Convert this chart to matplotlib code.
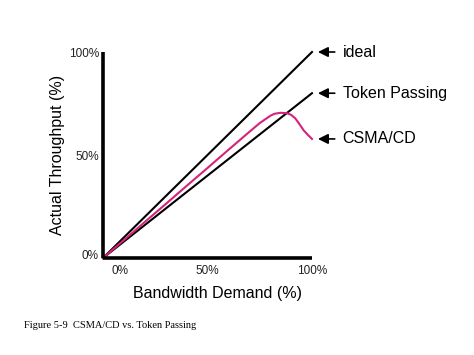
import matplotlib.pyplot as plt
import matplotlib.transforms as mtransforms

plt.rcParams['font.family'] = ['Liberation Sans', 'DejaVu Sans']

# bandwidth demand (%) and throughput (%)
demand_line = [0, 100]
ideal = [0, 100]
token_passing = [0, 80]

demand_csma = [0, 10, 20, 30, 40, 50, 60, 70, 75, 80, 82, 85, 88, 90, 92, 94, 96, 98, 100]
csma_cd = [0, 8.7, 17.5, 26.2, 35, 43.7, 52.5, 61.2, 65.5, 69.0, 70.0, 70.5, 70.3, 69.5, 67.8, 65.0, 62.0, 59.8, 57.8]

tick_vals = [0, 50, 100]
tick_labels = ['0%', '50%', '100%']

fig = plt.figure(figsize=(4.74, 3.55), dpi=100)
ax = fig.add_axes([0.2173, 0.2732, 0.4409, 0.5803])

ax.plot(demand_line, ideal, color='black', lw=1.5, clip_on=False)
ax.plot(demand_line, token_passing, color='black', lw=1.5, clip_on=False)
ax.plot(demand_csma, csma_cd, color='#d4237a', lw=1.5, clip_on=False)

ax.set_xlim(0, 100)
ax.set_ylim(0, 100)
for side in ['top', 'right']:
    ax.spines[side].set_visible(False)
for side in ['left', 'bottom']:
    ax.spines[side].set_linewidth(2.6)
    ax.spines[side].set_capstyle('butt')

ax.set_xticks(tick_vals)
ax.set_xticklabels(tick_labels)
ax.set_yticks(tick_vals)
ax.set_yticklabels(tick_labels)
ax.tick_params(length=0, labelsize=8.5, colors='#222222')
ax.tick_params(axis='x', pad=5)
ax.tick_params(axis='y', pad=3)

# first x label sits a bit to the right of the axis corner
lbl = ax.get_xticklabels()[0]
lbl.set_transform(lbl.get_transform() + mtransforms.ScaledTranslation(17 / 100, 0, fig.dpi_scale_trans))
lbl = ax.get_yticklabels()[0]
lbl.set_transform(lbl.get_transform() + mtransforms.ScaledTranslation(0, 4 / 100, fig.dpi_scale_trans))

ax.set_xlabel('Bandwidth Demand (%)', fontsize=11.5)
ax.set_ylabel('Actual Throughput (%)', fontsize=11.5)
ax.xaxis.set_label_coords(0.55, -0.135)
ax.yaxis.set_label_coords(-0.18, 0.5)

arrow = dict(arrowstyle='-|>,head_length=0.6,head_width=0.3', color='black', lw=1.2,
             shrinkA=3.6, shrinkB=4.3, mutation_scale=10)
for name, series in [('ideal', ideal), ('Token Passing', token_passing)]:
    ax.annotate(name, xy=(demand_line[-1], series[-1]), xytext=(22, 0), textcoords='offset points',
                va='center', ha='left', fontsize=11.5, arrowprops=arrow, annotation_clip=False)
ax.annotate('CSMA/CD', xy=(demand_csma[-1], csma_cd[-1]), xytext=(22, 0), textcoords='offset points',
            va='center', ha='left', fontsize=11.5, arrowprops=arrow, annotation_clip=False)

fig.text(24 / 474, 1 - 325 / 355, 'Figure 5-9  CSMA/CD vs. Token Passing', family='Liberation Serif',
         fontsize=7.5, va='center', ha='left')

fig.savefig('out.png', dpi=100)
